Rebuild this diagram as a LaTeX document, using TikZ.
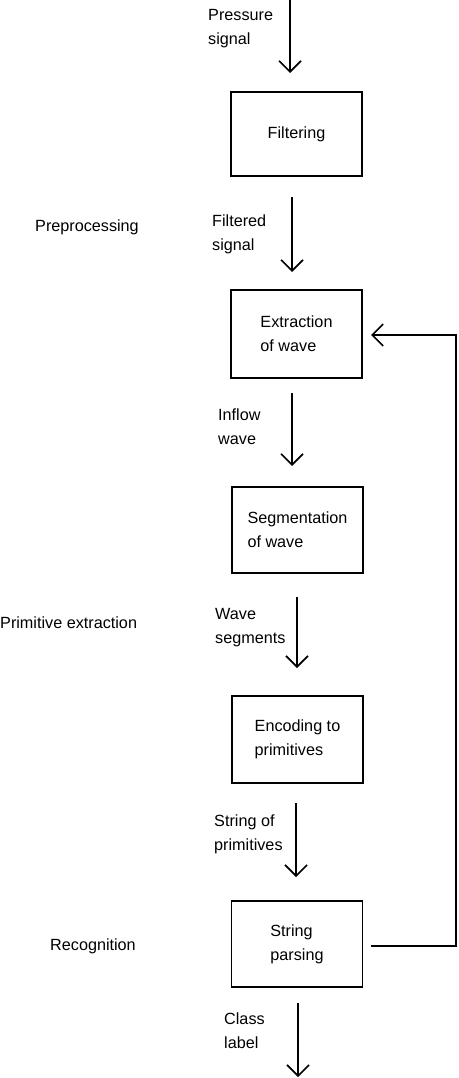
\documentclass[tikz,border=0pt]{standalone}
\usepackage{fontspec}
\setmainfont{Liberation Sans}
\usetikzlibrary{arrows.meta}
\begin{document}
\begin{tikzpicture}[x=1pt,y=-1pt,
  box/.style={draw,line width=1.1pt,minimum width=131pt,inner sep=0pt,align=left,font=\fontsize{16.2}{24}\selectfont},
  lbl/.style={anchor=west,align=left,inner sep=0pt,font=\fontsize{16.2}{24}\selectfont},
  arr/.style={line width=1.8pt,-{Straight Barb[length=11pt,width=22pt,line width=1.6pt]}}]
\useasboundingbox (0,0) rectangle (458,1078);
% boxes
\node[box,minimum height=84pt] (f) at (296.5,134) {Filtering};
\node[box,minimum height=88pt] (e) at (296.5,334) {Extraction\\of wave};
\node[box,minimum height=86pt] (s) at (297.5,530) {Segmentation\\of wave};
\node[box,minimum height=87pt] (c) at (297.5,739.5) {Encoding to\\primitives};
\node[box,minimum height=86pt] (p) at (297,944) {String\\parsing};
% arrow coordinates
\coordinate (a1s) at (290,0);    \coordinate (a1e) at (290,73);
\coordinate (a2s) at (292,197);  \coordinate (a2e) at (292,272);
\coordinate (a3s) at (292,393);  \coordinate (a3e) at (292,466);
\coordinate (a4s) at (297,597);  \coordinate (a4e) at (297,668);
\coordinate (a5s) at (296,803);  \coordinate (a5e) at (296,877);
\coordinate (a6s) at (298,1003); \coordinate (a6e) at (298,1077);
\draw[arr] (a1s) -- (a1e);
\draw[arr] (a2s) -- (a2e);
\draw[arr] (a3s) -- (a3e);
\draw[arr] (a4s) -- (a4e);
\draw[arr] (a5s) -- (a5e);
\draw[arr] (a6s) -- (a6e);
% feedback
\coordinate (fb1) at (456,946);
\coordinate (fb2) at (456,335);
\coordinate (fbs) at (371,946);
\coordinate (fbe) at (371,335);
\draw[arr,line width=1.6pt] (fbs) -- (fb1) -- (fb2) -- (fbe);
% arrow labels
\node[lbl] (l1) at (208,29) {Pressure\\signal};
\node[lbl] (l2) at (212,234) {Filtered\\signal};
\node[lbl] (l3) at (218,427) {Inflow\\wave};
\node[lbl] (l4) at (215,628) {Wave\\segments};
\node[lbl] (l5) at (214,834) {String of\\primitives};
\node[lbl] (l6) at (224,1031) {Class\\label};
% stage labels
\node[lbl] (t1) at (35,227) {Preprocessing};
\node[lbl] (t2) at (0,623) {Primitive extraction};
\node[lbl] (t3) at (50,946) {Recognition};
\end{tikzpicture}
\end{document}
